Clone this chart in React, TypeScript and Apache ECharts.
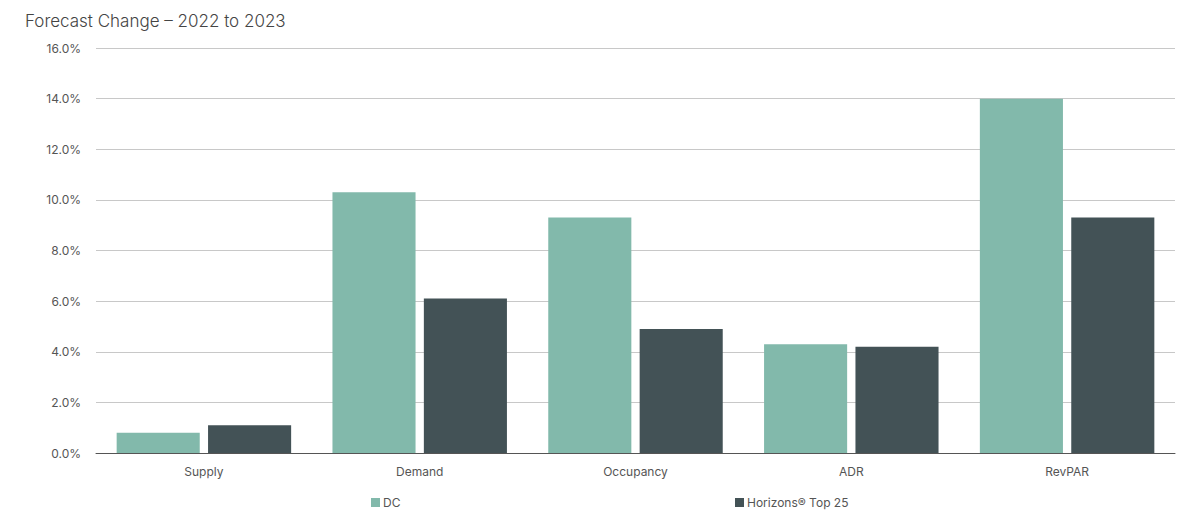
import React, { useEffect, useRef } from "react";
import * as echarts from "echarts";

const categories = ["Supply", "Demand", "Occupancy", "ADR", "RevPAR"];
const dcValues = [0.8, 10.3, 9.3, 4.3, 14.0];
const horizonsValues = [1.1, 6.1, 4.9, 4.2, 9.3];
const seriesNames = ["DC", "Horizons\u00AE Top 25"];
const colors = ["#82b9ab", "#435256"];

export default function App() {
  const ref = useRef<HTMLDivElement>(null);
  useEffect(() => {
    const chart = echarts.init(ref.current!, null, { renderer: "svg" });
    const font = "Inter, 'Noto Sans', sans-serif";
    const legendText = { fontSize: 12, color: "#555", fontFamily: font, lineHeight: 13, padding: [0, 0, 0, -2] };
    chart.setOption({
      animation: false,
      textStyle: { fontFamily: font },
      title: {
        text: "Forecast Change \u2013 2022 to 2023",
        left: 20,
        top: 7,
        textStyle: { fontSize: 17, fontWeight: 300, color: "#444", fontFamily: font },
      },
      legend: [
        {
          data: [seriesNames[0]],
          left: 371,
          top: 496,
          padding: 0,
          itemWidth: 9,
          itemHeight: 9,
          icon: "rect",
          textStyle: legendText,
        },
        {
          data: [seriesNames[1]],
          left: 735,
          top: 496,
          padding: 0,
          itemWidth: 9,
          itemHeight: 9,
          icon: "rect",
          textStyle: legendText,
        },
      ],
      grid: { left: 96, right: 21, top: 48, bottom: 61 },
      xAxis: {
        type: "category",
        data: categories,
        axisTick: { show: false },
        axisLine: { lineStyle: { color: "#555", width: 1 } },
        axisLabel: { color: "#555", fontSize: 12, margin: 12, fontFamily: font },
      },
      yAxis: {
        type: "value",
        min: 0,
        max: 16,
        interval: 2,
        axisLine: { show: false },
        axisTick: { show: false },
        splitLine: { lineStyle: { color: "#c8c8c8" } },
        axisLabel: {
          color: "#555",
          fontSize: 12,
          margin: 15,
          fontFamily: font,
          formatter: (v: number) => v.toFixed(1) + "%",
        },
      },
      series: [
        {
          name: seriesNames[0],
          type: "bar",
          data: dcValues,
          barWidth: "38.5%",
          barGap: "10%",
          itemStyle: { color: colors[0] },
        },
        {
          name: seriesNames[1],
          type: "bar",
          data: horizonsValues,
          barWidth: "38.5%",
          itemStyle: { color: colors[1] },
        },
      ],
    });
    return () => chart.dispose();
  }, []);
  return (
    <div
      ref={ref}
      style={{ position: "fixed", left: 0, top: 0, width: 1196, height: 514, background: "#fff" }}
    />
  );
}
